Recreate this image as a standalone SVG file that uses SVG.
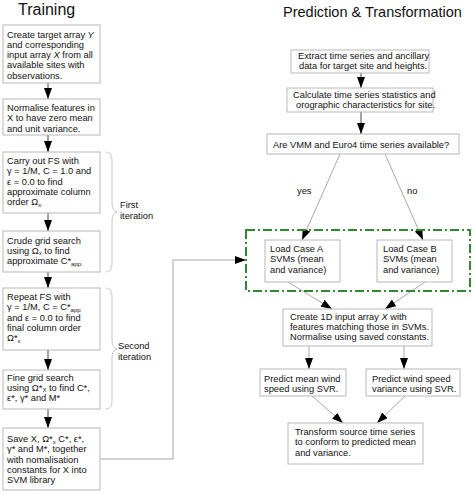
<svg xmlns="http://www.w3.org/2000/svg" width="474" height="494" viewBox="0 0 474 494">
<style>
.box{fill:#fff;stroke:#b8b8b8;stroke-width:1}
.t{font-family:"Liberation Sans",Arial,sans-serif;font-size:9.3px;fill:#111}
.title{font-family:"Liberation Sans",Arial,sans-serif;fill:#111}
.conn{stroke:#a8a8a8;stroke-width:1;fill:none}
.stem{stroke:#444;stroke-width:1;fill:none}
.brace{stroke:#c8c8c8;stroke-width:1;fill:none}
.grp{fill:none;stroke:#2f8a2f;stroke-width:2;stroke-dasharray:9 3 2 3}
.s{font-size:6px}
</style>
<defs>
<marker id="ah" markerUnits="userSpaceOnUse" markerWidth="11" markerHeight="8" refX="11" refY="4" orient="auto">
<path d="M0,0 L11,4 L0,8 z" fill="#000"/>
</marker>
</defs>
<rect width="474" height="494" fill="#fff"/>
<text class="title" x="18" y="15" font-size="16">Training</text>
<text class="title" x="283" y="17" font-size="14.5">Prediction &amp; Transformation</text>

<g id="connectors">
<line class="stem" x1="48" y1="83" x2="48" y2="99" marker-end="url(#ah)"/>
<line class="stem" x1="48" y1="135" x2="48" y2="152" marker-end="url(#ah)"/>
<line class="stem" x1="48" y1="213" x2="48" y2="231" marker-end="url(#ah)"/>
<line class="stem" x1="48" y1="272" x2="48" y2="288" marker-end="url(#ah)"/>
<line class="stem" x1="48" y1="350" x2="48" y2="370" marker-end="url(#ah)"/>
<line class="stem" x1="48" y1="409" x2="48" y2="428" marker-end="url(#ah)"/>
<path class="conn" d="M100,459 H173 V260 H246" marker-end="url(#ah)"/>
<line class="stem" x1="361" y1="73" x2="361" y2="88" marker-end="url(#ah)"/>
<line class="stem" x1="361" y1="112" x2="361" y2="134" marker-end="url(#ah)"/>
<line class="conn" x1="340" y1="154" x2="302" y2="240" marker-end="url(#ah)"/>
<line class="conn" x1="385" y1="154" x2="423" y2="240" marker-end="url(#ah)"/>
<line class="conn" x1="288" y1="282" x2="332" y2="309" marker-end="url(#ah)"/>
<line class="conn" x1="425" y1="282" x2="385" y2="309" marker-end="url(#ah)"/>
<line class="conn" x1="309" y1="346" x2="309" y2="369" marker-end="url(#ah)"/>
<line class="conn" x1="404" y1="346" x2="404" y2="369" marker-end="url(#ah)"/>
<line class="conn" x1="312" y1="396" x2="343" y2="423" marker-end="url(#ah)"/>
<line class="conn" x1="405" y1="396" x2="377" y2="423" marker-end="url(#ah)"/>
<text class="t" x="297" y="194">yes</text>
<text class="t" x="407" y="194">no</text>
</g>

<g id="braces">
<path class="brace" d="M106,152 Q112,152 112,160 V203 Q112,211 117,212 Q112,213 112,221 V264 Q112,272 106,272"/>
<text class="t" x="120" y="208">First</text>
<text class="t" x="120" y="219">iteration</text>
<path class="brace" d="M106,288 Q112,288 112,296 V340 Q112,348 117,349 Q112,350 112,358 V401 Q112,409 106,409"/>
<text class="t" x="118" y="349">Second</text>
<text class="t" x="118" y="360">iteration</text>
</g>

<g id="n1"><rect class="box" x="3" y="25" width="97" height="58"/>
<text class="t"><tspan x="7" y="37.5">Create target array <tspan font-style="italic">Y</tspan></tspan><tspan x="7" y="47.8">and corresponding</tspan><tspan x="7" y="58.1">input array <tspan font-style="italic">X</tspan> from all</tspan><tspan x="7" y="68.4">available sites with</tspan><tspan x="7" y="78.7">observations.</tspan></text></g>

<g id="n2"><rect class="box" x="3" y="99" width="97" height="36"/>
<text class="t"><tspan x="7" y="111">Normalise features in</tspan><tspan x="7" y="121.3">X to have zero mean</tspan><tspan x="7" y="131.6">and unit variance.</tspan></text></g>

<g id="n3"><rect class="box" x="3" y="152" width="97" height="61"/>
<text class="t"><tspan x="7" y="164">Carry out FS with</tspan><tspan x="7" y="174.3">γ = 1/M, C = 1.0 and</tspan><tspan x="7" y="184.6">ε = 0.0 to find</tspan><tspan x="7" y="194.9">approximate column</tspan><tspan x="7" y="205.2">order Ω<tspan class="s" dy="1.5">x</tspan></tspan></text></g>

<g id="n4"><rect class="box" x="3" y="231" width="97" height="41"/>
<text class="t"><tspan x="7" y="243.5">Crude grid search</tspan><tspan x="7" y="253.8">using Ω<tspan class="s" dy="1.5">x</tspan><tspan dy="-1.5"> to find</tspan></tspan><tspan x="7" y="264.1">approximate C*<tspan class="s" dy="1.5">app.</tspan></tspan></text></g>

<g id="n5"><rect class="box" x="3" y="288" width="97" height="62"/>
<text class="t"><tspan x="7" y="300">Repeat FS with</tspan><tspan x="7" y="310.3">γ = 1/M, C = C*<tspan class="s" dy="1.5">app</tspan></tspan><tspan x="7" y="320.6">and ε = 0.0 to find</tspan><tspan x="7" y="330.9">final column order</tspan><tspan x="7" y="341.2">Ω*<tspan class="s" dy="1.5">x</tspan></tspan></text></g>

<g id="n6"><rect class="box" x="3" y="370" width="97" height="39"/>
<text class="t"><tspan x="7" y="380.5">Fine grid search</tspan><tspan x="7" y="390.8">using Ω*<tspan class="s" dy="1.5">X</tspan><tspan dy="-1.5"> to find C*,</tspan></tspan><tspan x="7" y="401.1">ε*, γ* and M*</tspan></text></g>

<g id="n7"><rect class="box" x="3" y="428" width="97" height="62"/>
<text class="t"><tspan x="7" y="442">Save X, Ω*<tspan class="s" dy="1.5">x</tspan><tspan dy="-1.5"> C*, ε*,</tspan></tspan><tspan x="7" y="452.3">γ* and M*, together</tspan><tspan x="7" y="462.6">with nomalisation</tspan><tspan x="7" y="472.9">constants for X into</tspan><tspan x="7" y="483.2">SVM library</tspan></text></g>

<g id="r1"><rect class="box" x="291" y="50" width="138" height="23"/>
<text class="t"><tspan x="298" y="59">Extract time series and ancillary</tspan><tspan x="299" y="69.3">data for target site and heights.</tspan></text></g>

<g id="r2"><rect class="box" x="287" y="88" width="146" height="24"/>
<text class="t"><tspan x="293" y="97.5">Calculate time series statistics and</tspan><tspan x="296" y="107.8">orographic characteristics for site.</tspan></text></g>

<g id="r3"><rect class="box" x="267" y="134" width="192" height="20"/>
<text class="t" x="273" y="147.5">Are VMM and Euro4 time series available?</text></g>

<g id="group"><rect class="grp" x="246" y="230" width="224" height="61"/></g>

<g id="caseA"><rect class="box" x="265" y="240" width="75" height="42"/>
<text class="t"><tspan x="270" y="252">Load Case A</tspan><tspan x="270" y="262.3">SVMs (mean</tspan><tspan x="270" y="272.6">and variance)</tspan></text></g>

<g id="caseB"><rect class="box" x="377" y="240" width="75" height="42"/>
<text class="t"><tspan x="383" y="252">Load Case B</tspan><tspan x="383" y="262.3">SVMs (mean</tspan><tspan x="383" y="272.6">and variance)</tspan></text></g>

<g id="create"><rect class="box" x="283" y="309" width="149" height="37"/>
<text class="t"><tspan x="290" y="319.5">Create 1D input array <tspan font-style="italic">X</tspan> with</tspan><tspan x="290" y="329.8">features matching those in SVMs.</tspan><tspan x="290" y="340.1">Normalise using saved constants.</tspan></text></g>

<g id="pmean"><rect class="box" x="260" y="369" width="86" height="27"/>
<text class="t"><tspan x="264" y="381.5">Predict mean wind</tspan><tspan x="264" y="391.8">speed using SVR.</tspan></text></g>

<g id="pvar"><rect class="box" x="366" y="369" width="94" height="27"/>
<text class="t"><tspan x="372" y="381.5">Predict wind speed</tspan><tspan x="372" y="391.8">variance using SVR.</tspan></text></g>

<g id="transform"><rect class="box" x="288" y="423" width="135" height="41"/>
<text class="t"><tspan x="295" y="435">Transform source time series</tspan><tspan x="295" y="445.3">to conform to predicted mean</tspan><tspan x="295" y="455.6">and variance.</tspan></text></g>
</svg>
